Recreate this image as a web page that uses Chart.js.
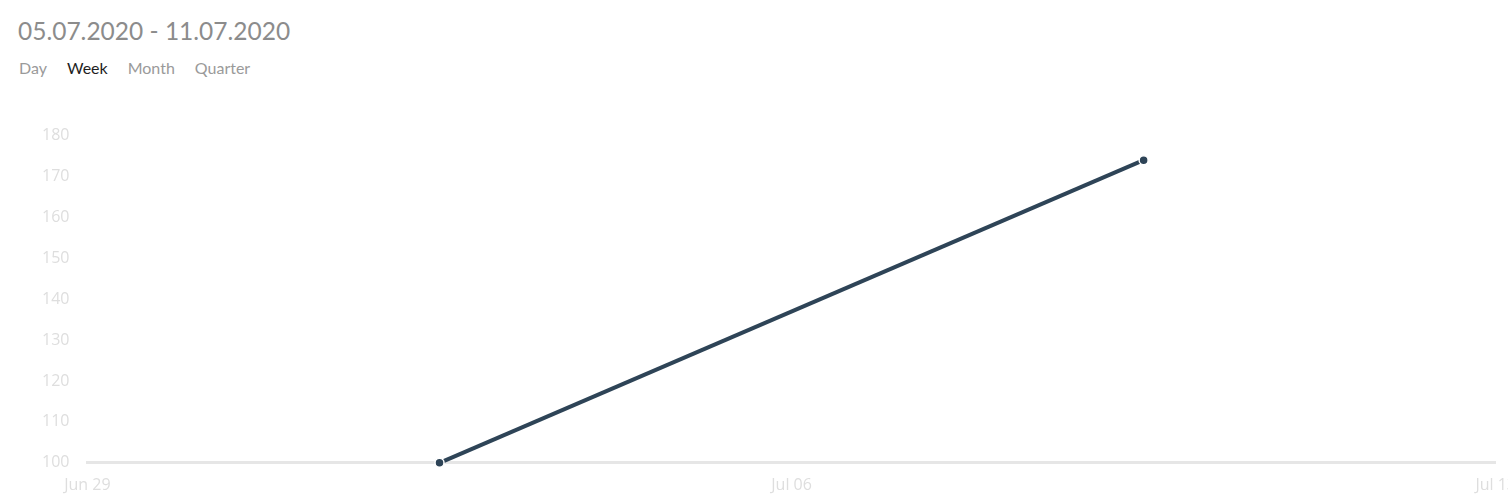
<!DOCTYPE html>
<html>
<head>
<meta charset="utf-8">
<script src="https://cdn.jsdelivr.net/npm/chart.js@4"></script>
<style>
  html, body { margin: 0; padding: 0; background: #fff; overflow: hidden; width: 1508px; height: 501px; }
  .range { position: absolute; left: 18px; top: 16px; font-family: Lato, sans-serif; font-size: 24.5px; color: #8c8c8c; }
  .tabs { position: absolute; left: 19px; top: 58px; font-family: Lato, sans-serif; font-size: 16px; color: #9a9a9a; }
  .tabs span { margin-right: 20px; }
  .tabs .active { color: #1e1e1e; }
  .wrap { position: absolute; left: 0; top: 116px; width: 1521px; height: 384px; }
</style>
</head>
<body>
<div class="range">05.07.2020 - 11.07.2020</div>
<div class="tabs"><span>Day</span><span class="active">Week</span><span>Month</span><span>Quarter</span></div>
<div class="wrap"><canvas id="lineChart"></canvas></div>
<script>
// data points (dates + values)
const pointDates = ['2020-07-02T12:00:00Z', '2020-07-09T12:00:00Z'];
const pointValues = [100, 174];

// x axis ticks
const tickDates = ['2020-06-29T00:00:00Z', '2020-07-06T00:00:00Z', '2020-07-13T00:00:00Z'];
const tickLabels = ['Jun 29', 'Jul 06', 'Jul 13'];

const DAY = 24 * 3600 * 1000;
const start = Date.parse(tickDates[0]);
const toDays = d => (Date.parse(d) - start) / DAY;

const points = pointDates.map((d, i) => ({ x: toDays(d), y: pointValues[i] }));

const lineChart = new Chart(document.getElementById('lineChart'), {
  type: 'line',
  data: {
    datasets: [{
      label: 'Week',
      data: points,
      borderColor: '#2e4457',
      backgroundColor: '#2e4457',
      borderWidth: 4,
      pointRadius: 4.5,
      pointBorderColor: '#ffffff',
      pointBorderWidth: 1.5,
      pointBackgroundColor: '#2e4457',
      tension: 0
    }]
  },
  options: {
    responsive: true,
    maintainAspectRatio: false,
    animation: false,
    layout: { padding: { left: 32 } },
    plugins: {
      legend: { display: false },
      tooltip: { enabled: false }
    },
    scales: {
      x: {
        type: 'linear',
        min: toDays(tickDates[0]),
        max: toDays(tickDates[tickDates.length - 1]),
        grid: { display: false },
        border: { display: true, color: '#e6e6e6', width: 3 },
        ticks: {
          stepSize: 7,
          padding: 5,
          color: '#dedede',
          font: { family: 'Open Sans', size: 16 },
          maxRotation: 0,
          callback: (value) => {
            const i = tickDates.findIndex(d => toDays(d) === value);
            return i >= 0 ? tickLabels[i] : '';
          }
        }
      },
      y: {
        beginAtZero: false,
        grid: { display: false },
        border: { display: false },
        ticks: {
          stepSize: 10,
          padding: 10,
          color: '#dedede',
          font: { family: 'Open Sans', size: 16 }
        }
      }
    }
  }
});
</script>
</body>
</html>
